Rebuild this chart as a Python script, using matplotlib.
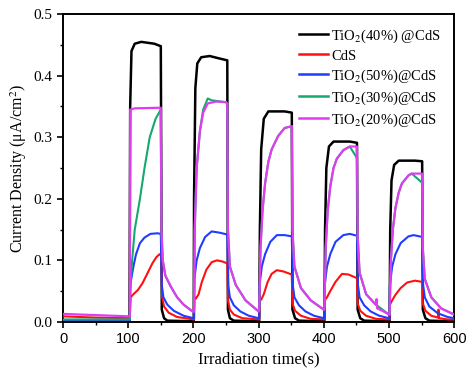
import numpy as np
import matplotlib
matplotlib.use('Agg')
import matplotlib.pyplot as plt

plt.rcParams['font.family'] = ['Liberation Serif', 'DejaVu Serif']
plt.rcParams['mathtext.fontset'] = 'stix'

# --- data (time in s, current density in uA/cm2) ---
t_black = [0, 102, 103, 105, 110, 120, 140, 150, 151.5, 155, 160, 200,
           200.5, 201, 203, 206, 212, 225, 240, 252, 253, 256, 262, 300,
           301, 302, 304, 308, 315, 340, 351, 352, 356, 362, 400,
           401, 402, 404, 408, 415, 440, 451, 452, 456, 462, 500,
           501, 502, 504, 508, 515, 540, 551, 552, 556, 562, 600]
y_black = [0.001, 0.001, 0.35, 0.44, 0.452, 0.455, 0.452, 0.448, 0.02, 0.006, 0.002, 0.001,
           0.001, 0.2, 0.38, 0.42, 0.43, 0.432, 0.428, 0.425, 0.02, 0.006, 0.002, 0.001,
           0.001, 0.15, 0.28, 0.33, 0.342, 0.342, 0.34, 0.02, 0.006, 0.002, 0.001,
           0.001, 0.15, 0.25, 0.285, 0.293, 0.293, 0.291, 0.02, 0.006, 0.002, 0.001,
           0.001, 0.15, 0.23, 0.255, 0.262, 0.262, 0.261, 0.02, 0.006, 0.002, 0.001]

t_red = [0, 50, 102.5, 103.5, 108, 115, 122, 130, 137, 143, 148, 151, 152, 155, 162, 175, 200,
         201, 201.5, 204, 208, 213, 220, 228, 236, 245, 252, 253, 256, 262, 275, 300,
         301, 301.5, 304, 308, 314, 320, 328, 338, 351, 352, 356, 365, 380, 400,
         401, 401.5, 405, 410, 418, 428, 438, 451, 452, 456, 465, 480, 500,
         501, 501.5, 505, 510, 518, 528, 540, 551, 552, 556, 565, 575, 576, 577, 590, 600]
y_red = [0.009, 0.007, 0.006, 0.04, 0.045, 0.052, 0.063, 0.08, 0.095, 0.105, 0.11, 0.107, 0.04, 0.025, 0.015, 0.008, 0.004,
         0.004, 0.04, 0.038, 0.045, 0.065, 0.085, 0.097, 0.1, 0.098, 0.095, 0.035, 0.02, 0.012, 0.006, 0.004,
         0.004, 0.04, 0.036, 0.045, 0.065, 0.078, 0.084, 0.082, 0.077, 0.03, 0.018, 0.01, 0.005, 0.004,
         0.004, 0.035, 0.04, 0.05, 0.065, 0.078, 0.077, 0.071, 0.03, 0.018, 0.01, 0.005, 0.004,
         0.004, 0.028, 0.035, 0.044, 0.055, 0.064, 0.067, 0.065, 0.03, 0.018, 0.01, 0.007, 0.02, 0.006, 0.004, 0.004]

t_blue = [0, 102.5, 103.5, 108, 112, 118, 125, 134, 145, 150, 151.5, 154, 160, 170, 185, 200,
          201, 201.5, 205, 210, 218, 228, 240, 252, 253.5, 256, 262, 272, 285, 300,
          301, 301.5, 305, 310, 318, 328, 340, 351, 352.5, 355, 362, 372, 385, 400,
          401, 401.5, 405, 410, 418, 430, 440, 451, 452.5, 455, 462, 472, 485, 500,
          501, 501.5, 505, 510, 518, 530, 538, 551, 552.5, 555, 562, 575, 590, 600]
y_blue = [0.003, 0.003, 0.063, 0.09, 0.11, 0.128, 0.137, 0.143, 0.144, 0.143, 0.06, 0.04, 0.028, 0.018, 0.01, 0.006,
          0.006, 0.07, 0.1, 0.12, 0.138, 0.147, 0.145, 0.142, 0.06, 0.04, 0.027, 0.017, 0.01, 0.006,
          0.006, 0.06, 0.09, 0.11, 0.13, 0.141, 0.141, 0.139, 0.06, 0.04, 0.027, 0.017, 0.01, 0.006,
          0.006, 0.06, 0.09, 0.11, 0.13, 0.141, 0.143, 0.14, 0.06, 0.04, 0.027, 0.017, 0.01, 0.006,
          0.006, 0.06, 0.09, 0.11, 0.128, 0.139, 0.141, 0.138, 0.06, 0.04, 0.025, 0.014, 0.008, 0.006]

t_green = [0, 102.5, 103, 106, 110, 118, 125, 133, 142, 150, 151, 153, 157, 165, 175, 185, 195, 200,
           201, 202, 205, 210, 215, 222, 228, 250, 252, 253, 256, 265, 280, 300,
           301, 303, 306, 310, 315, 320, 330, 340, 351, 352, 355, 365, 380, 400,
           401, 403, 406, 410, 415, 420, 430, 440, 451, 452, 455, 465, 480, 500,
           501, 503, 506, 510, 515, 520, 530, 535, 551, 552, 555, 565, 580, 600]
y_green = [0.004, 0.004, 0.05, 0.1, 0.15, 0.2, 0.25, 0.3, 0.33, 0.345, 0.15, 0.1, 0.075, 0.058, 0.04, 0.028, 0.02, 0.016,
           0.02, 0.15, 0.25, 0.31, 0.345, 0.363, 0.36, 0.357, 0.355, 0.15, 0.09, 0.06, 0.035, 0.017,
           0.02, 0.12, 0.18, 0.225, 0.26, 0.28, 0.302, 0.315, 0.318, 0.15, 0.09, 0.055, 0.035, 0.02,
           0.02, 0.12, 0.18, 0.22, 0.25, 0.265, 0.279, 0.285, 0.266, 0.14, 0.08, 0.045, 0.028, 0.012,
           0.012, 0.1, 0.15, 0.185, 0.21, 0.225, 0.238, 0.241, 0.226, 0.12, 0.07, 0.04, 0.022, 0.012]

t_mag = [0, 50, 102.5, 103, 110, 150, 151, 153, 157, 165, 175, 185, 195, 200,
         201, 202, 205, 210, 215, 222, 235, 250, 252, 253, 256, 265, 280, 300,
         301, 303, 306, 310, 315, 320, 330, 340, 351, 352, 355, 365, 380, 400,
         401, 403, 406, 410, 415, 420, 430, 440, 451, 452, 455, 465, 478, 480, 481, 482, 490, 500,
         501, 503, 506, 510, 515, 520, 530, 535, 551, 552, 555, 565, 580, 600]
y_mag = [0.013, 0.011, 0.009, 0.345, 0.347, 0.348, 0.15, 0.1, 0.075, 0.058, 0.04, 0.028, 0.02, 0.016,
         0.02, 0.15, 0.25, 0.31, 0.34, 0.355, 0.358, 0.357, 0.355, 0.15, 0.09, 0.06, 0.035, 0.017,
         0.02, 0.12, 0.18, 0.225, 0.26, 0.28, 0.302, 0.315, 0.318, 0.15, 0.09, 0.055, 0.035, 0.02,
         0.02, 0.12, 0.18, 0.22, 0.25, 0.265, 0.279, 0.285, 0.285, 0.14, 0.08, 0.045, 0.03, 0.028, 0.037, 0.022, 0.018, 0.012,
         0.012, 0.1, 0.15, 0.185, 0.21, 0.225, 0.238, 0.241, 0.241, 0.12, 0.07, 0.04, 0.022, 0.012]

fig = plt.figure(figsize=(4.74, 3.73), dpi=100)
ax = fig.add_axes([0.133, 0.137, 0.825, 0.825])

l_black, = ax.plot(t_black, y_black, color='black', lw=1.8, zorder=2, label='TiO$_2$(40%) @CdS')
l_red, = ax.plot(t_red, y_red, color='#ff1010', lw=1.5, zorder=3, label='CdS')
l_blue, = ax.plot(t_blue, y_blue, color='#1f3cff', lw=1.5, zorder=4, label='TiO$_2$(50%)@CdS')
l_green, = ax.plot(t_green, y_green, color='#16a86e', lw=1.5, zorder=5, label='TiO$_2$(30%)@CdS')
l_mag, = ax.plot(t_mag, y_mag, color='#e03cf0', lw=1.6, zorder=6, label='TiO$_2$(20%)@CdS')

ax.set_xlim(0, 600)
ax.set_ylim(0, 0.5)
ax.set_xticks([0, 100, 200, 300, 400, 500, 600])
ax.set_xticks(np.arange(50, 600, 100), minor=True)
ax.set_yticks([0.0, 0.1, 0.2, 0.3, 0.4, 0.5])
ax.set_yticks(np.arange(0.05, 0.5, 0.1), minor=True)
ax.set_yticklabels(['0.0', '0.1', '0.2', '0.3', '0.4', '0.5'], fontsize=11)
ax.set_xticklabels(['0', '100', '200', '300', '400', '500', '600'],
                   fontsize=10.5, family='Liberation Sans')
ax.tick_params(which='major', direction='out', length=4, width=1.2)
ax.tick_params(which='minor', direction='out', length=2.5, width=1.0)
for s in ax.spines.values():
    s.set_linewidth(1.4)

ax.set_xlabel('Irradiation time(s)', fontsize=12, labelpad=4)
ax.set_ylabel('Current Density (μA/cm$^2$)', fontsize=11.5, labelpad=3)

leg = ax.legend(handles=[l_black, l_red, l_blue, l_green, l_mag], loc='upper right',
                frameon=False, fontsize=10.5, handlelength=2.0, handletextpad=0.2,
                labelspacing=0.32, borderaxespad=0.5)
for h in leg.get_lines():
    h.set_linewidth(1.8)

fig.savefig('out.png', dpi=100)
